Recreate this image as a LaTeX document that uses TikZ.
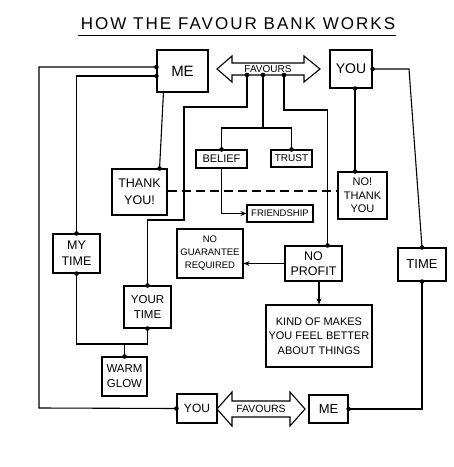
\documentclass[tikz,border=0pt]{standalone}
\usepackage{fontspec}
\setmainfont{Liberation Sans}
\usetikzlibrary{arrows.meta,calc}
\newcommand\myfs[2]{\fontsize{#1}{#2}\selectfont}
\begin{document}
\begin{tikzpicture}[x=1pt,y=-1pt,
  line width=1.1pt,
  box/.style={draw,line width=1.1pt,inner sep=0pt,align=center},
  conn/.style={line width=1.1pt},
  ar/.style={conn,-{Stealth[length=6pt,width=5pt]}},
  favarrow/.style={draw,line width=1.1pt,fill=white}]
\useasboundingbox[fill=white] (0,0) rectangle (454,467);

% title
\node[inner sep=0pt,font={\myfs{17}{20}\addfontfeatures{LetterSpace=12}}] (title) at (238,24) {HOW THE FAVOUR BANK WORKS};
\draw[line width=1.3pt] ($(title.south west)+(-2,5)$) -- ($(title.south east)+(0,5)$);

% nodes
\node[box,minimum width=51pt,minimum height=42pt,font={\myfs{15}{17}}] (me1) at (182.5,71) {ME};
\node[box,minimum width=42pt,minimum height=38pt,font={\myfs{14}{16}}] (you1) at (351,69) {YOU};
\node[box,minimum width=55pt,minimum height=46pt,font={\myfs{12.5}{17}}] (thank) at (139.5,192) {THANK\\YOU!};
\node[box,minimum width=47pt,minimum height=39pt,font={\myfs{12.5}{16}}] (mytime) at (76.5,253.5) {MY\\TIME};
\node[box,minimum width=47pt,minimum height=42pt,font={\myfs{11.5}{15}}] (yourtime) at (147.5,307) {YOUR\\TIME};
\node[box,minimum width=45pt,minimum height=39pt,font={\myfs{11.5}{15}}] (warm) at (124.5,376.5) {WARM\\GLOW};
\node[box,minimum width=40pt,minimum height=29pt,font={\myfs{12}{14}}] (you2) at (197,408.5) {YOU};
\node[box,minimum width=39pt,minimum height=28pt,font={\myfs{13}{15}}] (me2) at (328.5,409) {ME};
\node[box,minimum width=51pt,minimum height=18pt,font={\myfs{11}{13}}] (belief) at (221.5,159) {BELIEF};
\node[box,minimum width=41pt,minimum height=17pt,font={\myfs{10}{12}}] (trust) at (291.5,158.5) {TRUST};
\node[box,minimum width=66pt,minimum height=17pt,font={\myfs{9.5}{11}}] (friend) at (280,213.5) {FRIENDSHIP};
\node[box,minimum width=49pt,minimum height=47pt,font={\myfs{11}{13.5}}] (nothank) at (362.5,195.5) {NO!\\THANK\\YOU};
\node[box,minimum width=66pt,minimum height=49pt,font={\myfs{9.5}{13}}] (noguar) at (210,253.5) {NO\\GUARANTEE\\REQUIRED};
\node[box,minimum width=57pt,minimum height=35pt,font={\myfs{12.5}{15}}] (noprofit) at (313.5,263.5) {NO\\PROFIT};
\node[box,minimum width=48pt,minimum height=33pt,font={\myfs{13}{15}}] (time) at (422,264.5) {TIME};
\node[box,minimum width=106pt,minimum height=62pt,font={\myfs{11}{14.5}}] (kind) at (319,336) {KIND OF MAKES\\YOU FEEL BETTER\\ABOUT THINGS};

% favours arrows
\draw[favarrow] (217,69) -- (232,56) -- (232,63) -- (304,63) -- (304,56) -- (320,69)
  -- (304,82) -- (304,75) -- (232,75) -- (232,82) -- cycle;
\node[inner sep=0pt,font={\myfs{10}{11}}] (fav1) at (268,69) {FAVOURS};
\draw[favarrow] (217,409) -- (232,392) -- (232,401) -- (290,401) -- (290,392) -- (305,409)
  -- (290,426) -- (290,417) -- (232,417) -- (232,426) -- cycle;
\node[inner sep=0pt,font={\myfs{10.5}{12}}] (fav2) at (261,409) {FAVOURS};

\coordinate (f1) at (247,75);
\coordinate (f2) at (263,75);
\coordinate (f3) at (284,75);
\coordinate (j1) at (yourtime.south |- 0,344);
\coordinate (j2) at (f2 |- 0,128);
\coordinate (npt) at ($(noprofit.north east)+(-15,0)$);
\coordinate (yb) at ($(you1.south)+(4,0)$);
\coordinate (tt) at ($(thank.north east)+(-8,0)$);

% connectors
\draw[conn] (me1.west |- 0,67) -- (39,67) -- (39,408) -- (you2.west);
\draw[conn] (me1.west |- 0,76) -| (mytime.north);
\draw[conn] (mytime.south) |- (j1) -- (yourtime.south);
\draw[conn] (warm.north |- j1) -- (warm.north);
\draw[conn] ($(me1.south west)+(7,0)$) -- (tt);
\draw[conn,dashed,dash pattern=on 9pt off 5pt] (thank.east |- 0,191) -- (nothank.west |- 0,191);
\draw[conn] (f1) -- (f1 |- 0,107) -- (184,107) -- (184,220) -- (yourtime.north |- 0,220) -- (yourtime.north);
\draw[conn] (f2) -- (j2);
\draw[conn] (belief.north) -- (belief.north |- j2) -| (trust.north);
\draw[ar] (belief.south) |- (friend.west);
\draw[conn] (f3) -- (f3 |- 0,110) -| (npt);
\draw[ar] (noprofit.west) -- (noprofit.west -| noguar.east);
\draw[ar] (noprofit.south -| kind.north) -- (kind.north);
\draw[conn] (yb) -- (yb |- nothank.north);
\draw[conn] (you1.east) -- (409,69) -- (time.north);
\draw[conn] (time.south) |- (me2.east);

% junction dots
\foreach \p in {(me1.west |- 0,67),(me1.west |- 0,76),(you2.west),(mytime.north),
  (mytime.south),(yourtime.south),(yourtime.north),(warm.north),(tt),(f1),(f2),(f3),
  (belief.north),(trust.north),(npt),(yb),(yb |- nothank.north),(you1.east),
  (time.north),(time.south),(me2.east)}
  \fill \p circle[radius=2.3pt];
\end{tikzpicture}
\end{document}
